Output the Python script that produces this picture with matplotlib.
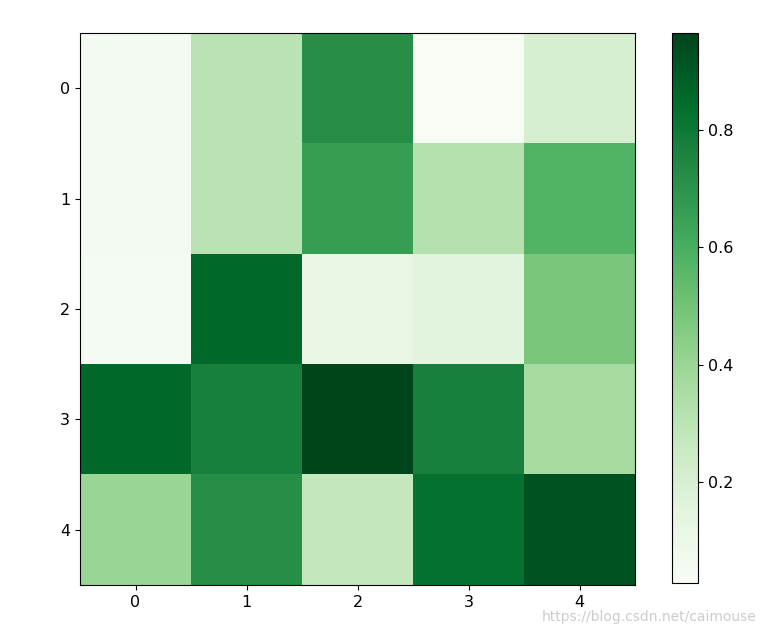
import matplotlib
matplotlib.use("Agg")
import matplotlib.pyplot as plt
import numpy as np

row0 = [0.05, 0.30, 0.72, 0.027, 0.20]
row1 = [0.05, 0.30, 0.66, 0.32, 0.57]
row2 = [0.045, 0.86, 0.12, 0.15, 0.48]
row3 = [0.86, 0.77, 0.966, 0.77, 0.36]
row4 = [0.40, 0.72, 0.27, 0.83, 0.92]
data = np.array([row0, row1, row2, row3, row4])

plt.rcParams['font.size'] = 11.5
fig = plt.figure(figsize=(7.64, 6.33), dpi=100)
ax = fig.add_axes([80/764, 1-585/633, 555/764, 552/633])
cax = fig.add_axes([672/764, 1-583/633, 26/764, 550/633])
im = ax.imshow(data, cmap="Greens", aspect="auto")
fig.colorbar(im, cax=cax)
ax.set_xticks(range(5))
ax.set_yticks(range(5))
fig.text(0.99, 0.015, "https://blog.csdn.net/caimouse", ha="right", va="bottom",
         color="#cccccc", fontsize=10)
fig.savefig("out.png")
